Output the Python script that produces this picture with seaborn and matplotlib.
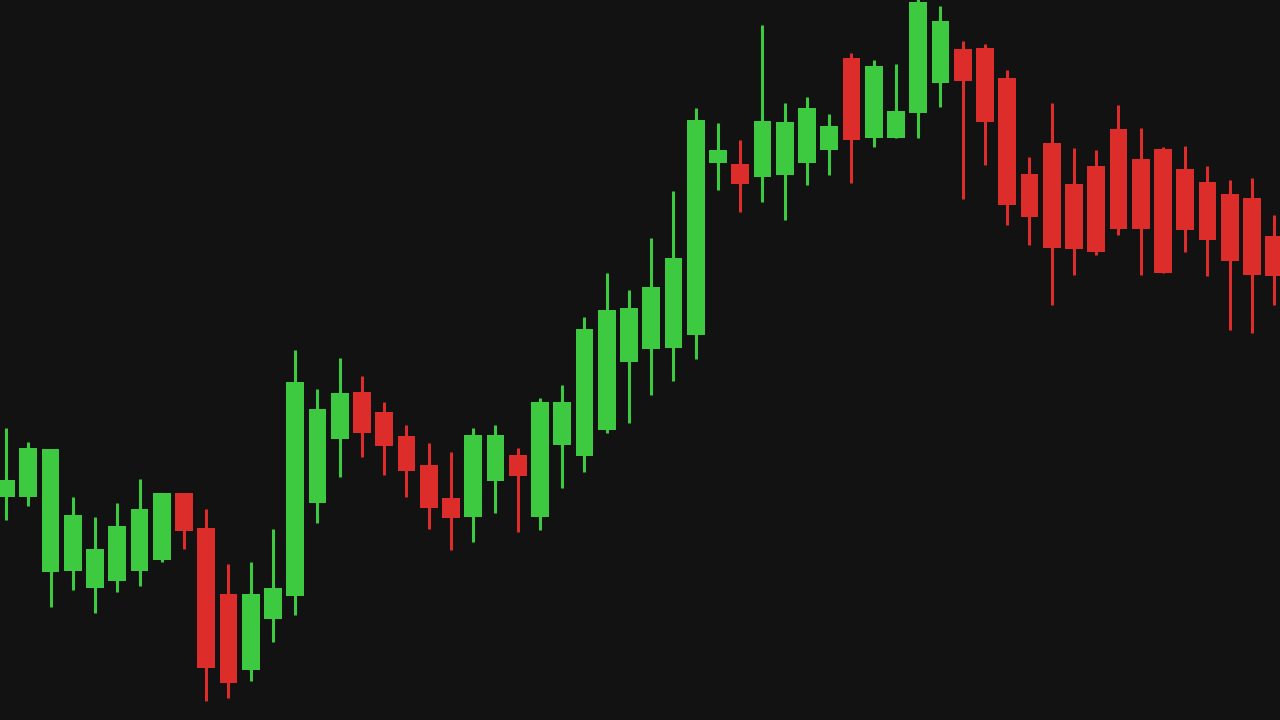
import pandas as pd
import matplotlib
matplotlib.use("Agg")
import matplotlib.pyplot as plt
import seaborn as sns

# candle prices (one entry per bar)
opens = [72.3, 72.3, 64.8, 64.9, 63.2, 63.9, 64.9, 66.0, 72.7, 69.2,
         62.6, 55.0, 60.1, 62.4, 71.7, 78.1, 82.8, 80.8, 78.4, 75.5,
         72.2, 70.3, 73.9, 76.5, 70.3, 77.5, 76.4, 79.0, 85.8, 87.1,
         87.2, 88.5, 105.7, 105.6, 104.3, 104.5, 105.7, 107.0, 116.2, 108.2,
         108.2, 110.7, 113.7, 117.1, 117.2, 114.2, 104.6, 107.7, 103.6, 105.4,
         109.1, 106.1, 107.1, 105.1, 103.8, 102.6, 102.2, 98.4, 101.4]
highs = [79.2, 77.8, 77.1, 72.3, 70.3, 71.7, 74.1, 72.7, 72.7, 71.1,
         65.6, 65.8, 69.1, 87.0, 83.1, 86.2, 84.4, 81.8, 79.5, 77.7,
         76.8, 79.2, 79.5, 77.2, 82.2, 83.5, 90.3, 94.7, 93.0, 98.2,
         102.9, 111.2, 109.7, 108.0, 119.5, 111.7, 112.3, 110.6, 116.7, 116.0,
         115.6, 122.5, 121.4, 117.9, 117.6, 115.0, 106.3, 111.7, 107.2, 107.0,
         111.5, 109.2, 107.3, 107.4, 105.4, 104.0, 104.2, 100.5, 102.0]
lows = [70.0, 71.4, 61.3, 63.0, 60.7, 62.8, 63.4, 65.8, 67.1, 51.9,
        52.2, 53.9, 57.8, 60.5, 69.7, 74.3, 76.3, 74.5, 72.3, 69.1,
        67.0, 67.8, 70.7, 68.8, 69.0, 73.2, 74.8, 78.7, 79.7, 82.5,
        83.9, 86.1, 103.0, 100.8, 101.8, 100.0, 103.5, 104.5, 103.7, 107.3,
        108.2, 108.2, 111.3, 102.1, 105.5, 99.5, 97.5, 91.5, 94.5, 96.5,
        98.5, 94.5, 94.7, 96.8, 94.4, 89.0, 88.7, 91.5, 90.0]
closes = [74.0, 77.2, 77.1, 70.5, 67.1, 69.4, 71.1, 72.7, 68.9, 55.2,
          53.7, 62.6, 63.2, 83.8, 81.1, 82.7, 78.7, 77.4, 74.9, 71.2,
          70.2, 78.5, 78.5, 74.4, 81.8, 81.8, 89.1, 91.0, 91.2, 93.3,
          96.2, 110.0, 107.0, 103.6, 109.9, 109.8, 111.2, 109.4, 108.0, 115.4,
          110.9, 121.8, 119.9, 113.9, 109.8, 101.5, 100.3, 97.2, 97.1, 96.8,
          99.1, 99.1, 94.7, 99.0, 98.0, 95.9, 94.5, 94.4, 91.0]

bg = "#121212"
up_color = "#3dc940"
down_color = "#dc2d2a"

df = pd.DataFrame({"open": opens, "high": highs, "low": lows, "close": closes})
df["t"] = range(len(df))
df["up"] = df["close"] >= df["open"]
df["color"] = df["up"].map({True: up_color, False: down_color})
df["body_low"] = df[["open", "close"]].min(axis=1)
df["body_h"] = (df["close"] - df["open"]).abs()

sns.set_theme(style="dark", rc={"axes.facecolor": bg, "figure.facecolor": bg})

fig = plt.figure(figsize=(12.8, 7.2), dpi=100)
ax = fig.add_axes([0, 0, 1, 1])

# wicks then bodies
ax.vlines(df["t"], df["low"], df["high"], colors=df["color"], linewidth=2.2, zorder=2)
ax.bar(df["t"], df["body_h"], bottom=df["body_low"], width=0.8,
       color=df["color"], linewidth=0, zorder=3)

ax.set_xlim(-0.27, 57.26)
ax.set_ylim(50, 122)
ax.set_xticks([])
ax.set_yticks([])
ax.grid(False)
for s in ax.spines.values():
    s.set_visible(False)

fig.savefig("out.png", dpi=100, facecolor=bg)
